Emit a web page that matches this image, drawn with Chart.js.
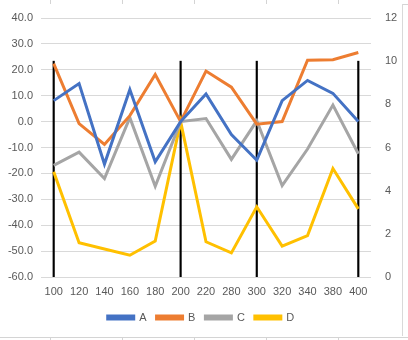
<!DOCTYPE html>
<html>
<head>
<meta charset="utf-8">
<script src="https://cdn.jsdelivr.net/npm/chart.js@4"></script>
<style>
  html, body { margin: 0; padding: 0; background: #fff; }
  body { width: 408px; height: 340px; position: relative; overflow: hidden; }
  .cl { position: absolute; background: #d4d4d4; }
  #wrap { position: absolute; left: 0; top: 4px; width: 402px; height: 332px; background: #fff; border-right: 1px solid #d9d9d9; }
</style>
</head>
<body>
<div class="cl" style="left:0;top:4px;width:408px;height:1px"></div>
<div class="cl" style="left:0;top:337px;width:408px;height:1px"></div>
<div class="cl" style="left:50px;top:0;width:1px;height:4px"></div>
<div class="cl" style="left:122px;top:0;width:1px;height:4px"></div>
<div class="cl" style="left:194px;top:0;width:1px;height:4px"></div>
<div class="cl" style="left:266px;top:0;width:1px;height:4px"></div>
<div class="cl" style="left:338px;top:0;width:1px;height:4px"></div>
<div class="cl" style="left:50px;top:337px;width:1px;height:3px"></div>
<div class="cl" style="left:122px;top:337px;width:1px;height:3px"></div>
<div class="cl" style="left:194px;top:337px;width:1px;height:3px"></div>
<div class="cl" style="left:266px;top:337px;width:1px;height:3px"></div>
<div class="cl" style="left:338px;top:337px;width:1px;height:3px"></div>
<div id="wrap"><canvas id="c" width="402" height="332"></canvas></div>
<script>
const categories = ['100','120','140','160','180','200','220','280','300','320','340','380','400'];
const seriesA = [8.1, 14.7, -16.4, 12.4, -15.5, 0, 10.7, -5.0, -14.9, 8.1, 15.9, 10.9, 0];
const seriesB = [22.4, -0.8, -8.8, 2.3, 18.2, 0, 19.5, 13.3, -1.0, 0, 23.7, 23.9, 26.7];
const seriesC = [-16.9, -11.8, -22.0, 1.5, -25.0, 0, 1.2, -14.6, 0.3, -24.7, -10.6, 6.4, -12.4];
const seriesD = [-19.4, -46.8, -49.2, -51.6, -46.1, 0, -46.4, -50.7, -32.9, -48.1, -44.0, -18.1, -33.7];
const markerBars = [10, null, null, null, null, 10, null, null, 10, null, null, null, 10];
const leftTicks = [-60, -50, -40, -30, -20, -10, 0, 10, 20, 30, 40];
const rightTicks = [0, 2, 4, 6, 8, 10, 12];

const FONT = { family: 'Liberation Sans, Arial, sans-serif', size: 11 };
const TXT = '#595959';

function line(label, data, color) {
  return { type: 'line', label, data, borderColor: color, backgroundColor: color,
    borderWidth: 3, pointRadius: 0, tension: 0, yAxisID: 'y', order: 1 };
}

new Chart(document.getElementById('c'), {
  data: {
    labels: categories,
    datasets: [
      line('A', seriesA, '#4472C4'),
      line('B', seriesB, '#ED7D31'),
      line('C', seriesC, '#A5A5A5'),
      line('D', seriesD, '#FFC000'),
      { type: 'bar', label: 'bars', data: markerBars, backgroundColor: '#000', borderWidth: 0,
        barThickness: 1.5, yAxisID: 'y1', order: 5 }
    ]
  },
  options: {
    responsive: false, animation: false,
    layout: { padding: { top: 14, bottom: 3, left: 0, right: 0 } },
    plugins: {
      tooltip: { enabled: false },
      legend: {
        position: 'bottom',
        labels: {
          font: FONT, color: TXT, boxWidth: 26, boxHeight: 3, padding: 10,
          filter: (item) => item.text !== 'bars'
        }
      }
    },
    scales: {
      x: {
        offset: true,
        grid: { display: false, drawTicks: false },
        border: { display: false },
        ticks: { font: FONT, color: TXT, padding: 8, maxRotation: 0, autoSkip: false },
        afterFit: (s) => { s.height = 25; s.paddingLeft = 0; s.paddingRight = 0; }
      },
      y: {
        position: 'left', min: -60, max: 40,
        afterBuildTicks: (s) => { s.ticks = leftTicks.map(v => ({ value: v })); },
        ticks: { font: FONT, color: TXT, padding: 8, callback: (v) => Number(v).toFixed(1) },
        grid: { color: '#D9D9D9', lineWidth: 1, drawTicks: false },
        border: { display: false },
        afterFit: (s) => { s.width = 41; s.paddingTop = 0; s.paddingBottom = 0; }
      },
      y1: {
        position: 'right', min: 0, max: 12,
        afterBuildTicks: (s) => { s.ticks = rightTicks.map(v => ({ value: v })); },
        ticks: { font: FONT, color: TXT, padding: 14 },
        grid: { display: false, drawTicks: false },
        border: { display: false },
        afterFit: (s) => { s.width = 31; s.paddingTop = 0; s.paddingBottom = 0; }
      }
    }
  }
});
</script>
</body>
</html>
